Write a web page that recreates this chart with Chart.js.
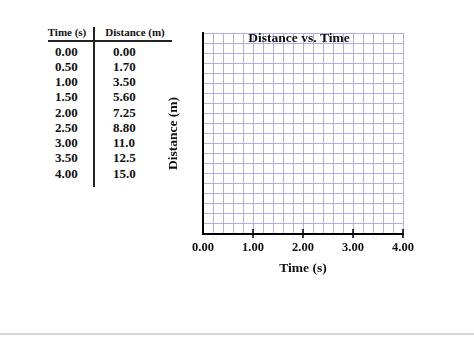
<!DOCTYPE html>
<html>
<head>
<meta charset="utf-8">
<title>Distance vs. Time</title>
<script src="https://cdn.jsdelivr.net/npm/chart.js@4"></script>
<style>
    body {
        margin: 0;
        width: 474px;
        height: 355px;
        position: relative;
        overflow: hidden;
        background: #fff;
        font-family: "Liberation Serif", "Times New Roman", serif;
        color: #111;
    }
    .cell {
        position: absolute;
        font-weight: bold;
        font-size: 13px;
        line-height: 15px;
        white-space: nowrap;
    }
    .head {
        font-size: 11px;
        text-align: center;
    }
    #vline { position: absolute; left: 93px; top: 27px; width: 2px; height: 160px; background: #222; }
    #hline { position: absolute; left: 48px; top: 40px; width: 124px; height: 1.5px; background: #222; }
    #chartBox { position: absolute; left: 160px; top: 20px; width: 260px; height: 280px; }
    #footer { position: absolute; left: 0; top: 333px; width: 474px; height: 2px; background: #d4d4d4; }
</style>
</head>
<body>
<div id="dataTable"></div>
<div id="vline"></div>
<div id="hline"></div>
<div id="chartBox"><canvas id="distanceChart" width="260" height="280"></canvas></div>
<div id="footer"></div>

<script>
// table values, as printed
const timeHeader = 'Time (s)';
const distanceHeader = 'Distance (m)';
const timeLabels = ['0.00', '0.50', '1.00', '1.50', '2.00', '2.50', '3.00', '3.50', '4.00'];
const distanceLabels = ['0.00', '1.70', '3.50', '5.60', '7.25', '8.80', '11.0', '12.5', '15.0'];

// empty graph paper
const chartTitle = 'Distance vs. Time';
const xTitle = 'Time (s)';
const yTitle = 'Distance (m)';
const xMajorTicks = [0, 1, 2, 3, 4];
const xRange = [0, 4];
const xGridStep = 0.2;
const yRange = [0, 20];
const yGridStep = 1;

const gridColor = '#aeaeea';
const inkColor = '#111';
const serif = '"Liberation Serif", "Times New Roman", serif';

function buildTable() {
    const box = document.getElementById('dataTable');
    let html = '';
    html += `<div class="cell head" style="left:44px;top:25px;width:46px">${timeHeader}</div>`;
    html += `<div class="cell head" style="left:96px;top:25px;width:78px">${distanceHeader}</div>`;
    timeLabels.forEach((t, i) => {
        const top = 43.5 + i * 15.25;
        html += `<div class="cell" style="left:55px;top:${top}px">${t}</div>`;
        html += `<div class="cell" style="left:113px;top:${top}px">${distanceLabels[i]}</div>`;
    });
    box.innerHTML = html;
}

// major tick marks crossing the time axis + title inside the plot
const paperOverlay = {
    id: 'paperOverlay',
    afterDraw(chart) {
        const { ctx, chartArea: a, scales: { x } } = chart;
        ctx.save();
        ctx.strokeStyle = '#000';
        ctx.lineWidth = 1.5;
        xMajorTicks.forEach(v => {
            if (v === xRange[0]) return;
            const px = x.getPixelForValue(v);
            ctx.beginPath();
            ctx.moveTo(px, a.bottom - 5);
            ctx.lineTo(px, a.bottom + 4);
            ctx.stroke();
        });
        ctx.fillStyle = inkColor;
        ctx.font = 'bold 13.5px ' + serif;
        ctx.textAlign = 'center';
        ctx.textBaseline = 'middle';
        ctx.fillText(chartTitle, (a.left + a.right) / 2 - 4, a.top + 6);
        ctx.restore();
    }
};

function createChart() {
    const ctx = document.getElementById('distanceChart');
    const labelFont = { family: serif, weight: 'bold', size: 12.5 };
    const titleFont = { family: serif, weight: 'bold', size: 13.5 };

    ctx.chart = new Chart(ctx, {
        type: 'scatter',
        data: { datasets: [] },
        options: {
            responsive: false,
            animation: false,
            layout: { padding: { left: 0, right: 17, top: 13, bottom: 6 } },
            plugins: {
                legend: { display: false },
                tooltip: { enabled: false }
            },
            scales: {
                x: {
                    type: 'linear',
                    min: xRange[0],
                    max: xRange[1],
                    border: { color: '#000', width: 2 },
                    grid: { color: gridColor, lineWidth: 1, tickLength: 4, tickColor: 'rgba(0,0,0,0)' },
                    ticks: {
                        stepSize: xGridStep,
                        autoSkip: false,
                        maxRotation: 0,
                        padding: 2,
                        color: inkColor,
                        font: labelFont,
                        callback: (value) => {
                            const r = Math.round(value);
                            return Math.abs(value - r) < 1e-6 && xMajorTicks.includes(r) ? r.toFixed(2) : '';
                        }
                    },
                    title: { display: true, text: xTitle, color: inkColor, font: titleFont, padding: { top: 0, bottom: 17 } },
                    afterFit: (scale) => { scale.height = 60; }
                },
                y: {
                    type: 'linear',
                    min: yRange[0],
                    max: yRange[1],
                    border: { color: '#000', width: 2 },
                    grid: { color: gridColor, lineWidth: 1, drawTicks: false },
                    ticks: { display: false, stepSize: yGridStep },
                    title: { display: true, text: yTitle, color: inkColor, font: titleFont, padding: { top: 5, bottom: 0 } },
                    afterFit: (scale) => { scale.width = 43; }
                }
            }
        },
        plugins: [paperOverlay]
    });
}

buildTable();
createChart();
</script>
</body>
</html>
